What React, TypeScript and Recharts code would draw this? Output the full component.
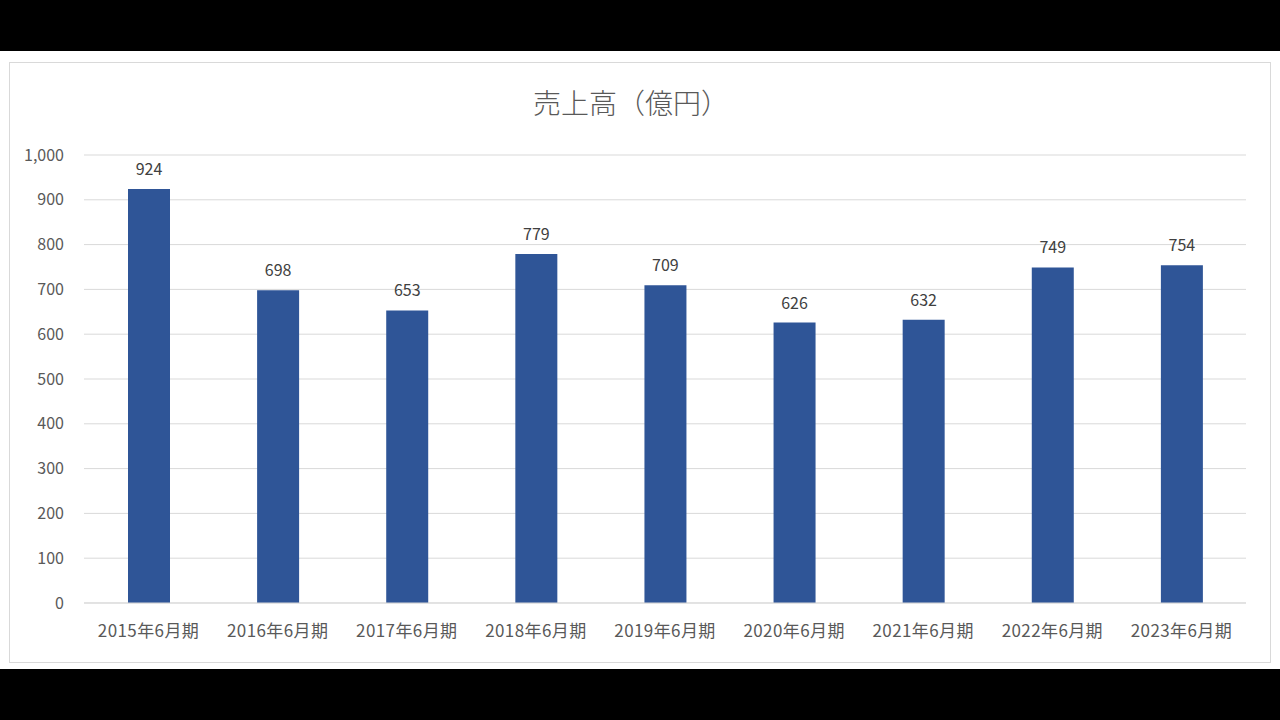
import React from 'react';
import { BarChart, Bar, XAxis, YAxis, CartesianGrid, LabelList } from 'recharts';

const periods = [
    '2015年6月期',
    '2016年6月期',
    '2017年6月期',
    '2018年6月期',
    '2019年6月期',
    '2020年6月期',
    '2021年6月期',
    '2022年6月期',
    '2023年6月期'
];
const sales = [924, 698, 653, 779, 709, 626, 632, 749, 754];
const yTicks = [0, 100, 200, 300, 400, 500, 600, 700, 800, 900, 1000];

const data = periods.map((period, i) => ({ period, sales: sales[i] }));

const FONT = '"Noto Sans CJK JP", "Noto Sans", sans-serif';
const tickColor = '#595959';
const gridColor = '#d9d9d9';
const barColor = '#2f5597';

export default function App() {
    return (
        <div style={{ position: 'fixed', left: 0, top: 0, width: 1280, height: 720, background: '#000', fontFamily: FONT }}>
            {/* white slide area */}
            <div style={{ position: 'absolute', left: 0, top: 51, width: 1280, height: 618, background: '#fff' }} />
            {/* chart frame */}
            <div
                style={{
                    position: 'absolute',
                    left: 9,
                    top: 62,
                    width: 1260,
                    height: 599,
                    border: `1px solid ${gridColor}`
                }}
            />
            <div
                style={{
                    position: 'absolute',
                    left: 533,
                    top: 84,
                    fontSize: 28,
                    fontWeight: 300,
                    lineHeight: '36px',
                    color: tickColor,
                    whiteSpace: 'nowrap'
                }}
            >
                売上高（億円）
            </div>
            <div style={{ position: 'absolute', left: 0, top: 0 }}>
                <BarChart
                    width={1280}
                    height={720}
                    data={data}
                    margin={{ top: 155, right: 34, left: 0, bottom: 87 }}
                >
                    <CartesianGrid vertical={false} stroke={gridColor} />
                    <XAxis
                        dataKey="period"
                        axisLine={{ stroke: gridColor }}
                        tickLine={false}
                        tickMargin={16}
                        interval={0}
                        tick={{ fill: tickColor, fontSize: 17, fontFamily: FONT, letterSpacing: 0.4 }}
                    />
                    <YAxis
                        width={84}
                        domain={[0, 1000]}
                        ticks={yTicks}
                        axisLine={false}
                        tickLine={false}
                        tickMargin={14}
                        tickFormatter={(v: number) => v.toLocaleString('en-US')}
                        tick={{ fill: tickColor, fontSize: 16, fontFamily: FONT }}
                    />
                    <Bar dataKey="sales" fill={barColor} barSize={42} isAnimationActive={false}>
                        <LabelList
                            dataKey="sales"
                            position="top"
                            offset={14}
                            fill="#404040"
                            fontSize={16}
                            fontFamily={FONT}
                        />
                    </Bar>
                </BarChart>
            </div>
        </div>
    );
}
